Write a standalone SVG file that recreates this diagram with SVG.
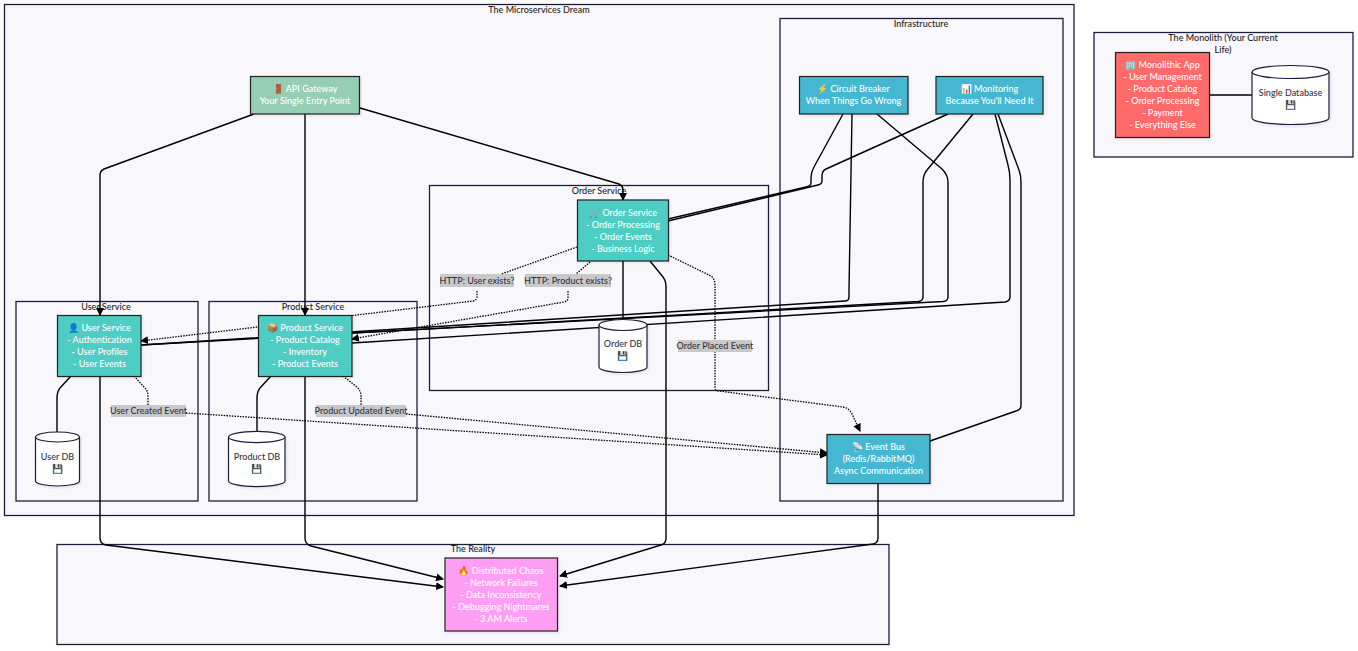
<svg xmlns="http://www.w3.org/2000/svg" width="1358" height="651" viewBox="0 0 1358 651">
<style>
text{font-family:"Lato","Noto Sans","Open Sans",sans-serif;font-size:9px;text-anchor:middle;letter-spacing:.02px;font-weight:500}
.c{fill:#f8f8fc;stroke:#1c1c3c;stroke-width:1.3}
.t{fill:#222}
.n{stroke:#222;stroke-width:1.2;filter:url(#s)}
.w{fill:#fff}
.d{fill:#333344}
.db{fill:#fff;stroke:#1c1c3c;stroke-width:1.2}
.e{fill:none;stroke:#000;stroke-width:1.4}
.h{stroke-dasharray:1.5 1.2;stroke-width:1.3}
.l{fill:#c9c9c9}
</style>
<defs>
<filter id="s" x="-10%" y="-10%" width="125%" height="125%"><feDropShadow dx="1.5" dy="1.5" stdDeviation="1" flood-color="#000" flood-opacity=".08"/></filter>
<marker id="a" markerWidth="8" markerHeight="8" refX="7" refY="4" orient="auto" markerUnits="userSpaceOnUse"><path d="M0 0L8 4L0 8z" fill="#000"/></marker>
</defs>
<g id="clusters">
<g id="dream"><rect class="c" x="4.500" y="4.500" width="1069.500" height="511"/><text class="t" x="539" y="13">The Microservices Dream</text></g>
<g id="infrastructure"><rect class="c" x="780" y="18.500" width="283" height="482.500"/><text class="t" x="921" y="27">Infrastructure</text></g>
<g id="order-cluster"><rect class="c" x="429.500" y="185.500" width="339" height="205"/><text class="t" x="599" y="194">Order Service</text></g>
<g id="user-cluster"><rect class="c" x="16" y="301.500" width="182" height="199.500"/><text class="t" x="106" y="310">User Service</text></g>
<g id="product-cluster"><rect class="c" x="209" y="301.500" width="208" height="199.500"/><text class="t" x="313" y="310">Product Service</text></g>
<g id="reality"><rect class="c" x="57" y="544.500" width="832" height="100"/><text class="t" x="473" y="552">The Reality</text></g>
<g id="monolith"><rect class="c" x="1094" y="32.500" width="259" height="124.500"/><text class="t" x="1223" y="41">The Monolith (Your Current<tspan x="1223" dy="12">Life)</tspan></text></g>
</g>
<g id="connectors">
<path class="e" marker-end="url(#a)" d="M254 114L104 169Q100 171 100 175V315"/>
<path class="e" marker-end="url(#a)" d="M305 114V315"/>
<path class="e" marker-end="url(#a)" d="M360 108L619 184Q623 186 623 190V200"/>
<path class="e" d="M843 114L814 167Q811 172 811 178V183Q811 186 806 187L668 219"/>
<path class="e" d="M948 114L826 169Q822 171 822 176V181Q822 184 818 185L668 221"/>
<path class="e" d="M852 114L849 290V297Q849 301 845 301L141 345"/>
<path class="e" d="M877 114L942 169Q948 175 948 182V297Q948 301 943 301.500L352 333"/>
<path class="e" d="M973 114L927 170Q923 175 923 182V297Q923 301 918 301.500L141 345"/>
<path class="e" d="M995 114L1008 165Q1010 172 1010 180V297Q1010 301 1005 302L352 343"/>
<path class="e" d="M998 114L1019 170Q1021 175 1021 182V405Q1021 410 1016 411L930 441"/>
<path class="e" d="M623 261V320"/>
<path class="e" d="M71 376L60 388Q57 392 57 398V432"/>
<path class="e" d="M271 376L260 388Q257 392 257 398V431"/>
<path class="e" d="M1209 95H1252"/>
<path class="e" marker-end="url(#a)" d="M100 376V538Q100 544 106 545L443 587"/>
<path class="e" marker-end="url(#a)" d="M305 376V538Q305 544 311 546L443 579"/>
<path class="e" marker-end="url(#a)" d="M650 261L663 277Q666 281 666 287V538Q666 544 661 545L560 576"/>
<path class="e" marker-end="url(#a)" d="M878 483V538Q878 543 873 544L560 586"/>
<path class="e h" marker-end="url(#a)" d="M577 247L493 277M477 291V297Q477 300 473 301L141 341"/>
<path class="e h" marker-end="url(#a)" d="M590 262L575 275M568 291V298Q568 301 564 302L352 339"/>
<path class="e h" marker-end="url(#a)" d="M668 255L711 276Q715 279 715 285V388Q715 391 719 391L843 407Q849 408 852 414L860 431"/>
<path class="e h" marker-end="url(#a)" d="M134 376L145 388Q148 391 148 396V405M186 413L827 455"/>
<path class="e h" marker-end="url(#a)" d="M343 376L357 387Q361 391 361 396V405M406 414L827 453"/>
</g>
<g id="labels">
<g id="l-user"><rect class="l" x="440" y="274" width="74" height="13"/><text class="d" x="477" y="284">HTTP: User exists?</text></g>
<g id="l-product"><rect class="l" x="525" y="274" width="86" height="13"/><text class="d" x="568" y="284">HTTP: Product exists?</text></g>
<g id="l-placed"><rect class="l" x="678" y="340" width="74" height="12"/><text class="d" x="715" y="349">Order Placed Event</text></g>
<g id="l-created"><rect class="l" x="111" y="405" width="75" height="12"/><text class="d" x="148.500" y="414">User Created Event</text></g>
<g id="l-updated"><rect class="l" x="316" y="405" width="90" height="12"/><text class="d" x="361" y="414">Product Updated Event</text></g>
</g>
<g id="api-gateway"><rect class="n" x="250.500" y="76.500" width="109" height="37.500" fill="#96ceb4"/><text class="w" x="305" y="92">🚪 API Gateway<tspan x="305" dy="12">Your Single Entry Point</tspan></text></g>
<g id="circuit-breaker"><rect class="n" x="799.500" y="76.500" width="108.500" height="37.500" fill="#45b7d1"/><text class="w" x="853.500" y="92">⚡ Circuit Breaker<tspan x="853.500" dy="12">When Things Go Wrong</tspan></text></g>
<g id="monitoring"><rect class="n" x="936" y="76.500" width="107" height="37.500" fill="#45b7d1"/><text class="w" x="989.500" y="92">📊 Monitoring<tspan x="989.500" dy="12">Because You'll Need It</tspan></text></g>
<g id="order-service"><rect class="n" x="577.500" y="200" width="91" height="61" fill="#4ecdc4"/><text class="w" x="623" y="215.500">🛒 Order Service<tspan x="623" dy="12">- Order Processing</tspan><tspan x="623" dy="12">- Order Events</tspan><tspan x="623" dy="12">- Business Logic</tspan></text></g>
<g id="user-service"><rect class="n" x="57.500" y="315.500" width="83.500" height="61" fill="#4ecdc4"/><text class="w" x="99.500" y="331">👤 User Service<tspan x="99.500" dy="12">- Authentication</tspan><tspan x="99.500" dy="12">- User Profiles</tspan><tspan x="99.500" dy="12">- User Events</tspan></text></g>
<g id="product-service"><rect class="n" x="258.500" y="315.500" width="93.500" height="61" fill="#4ecdc4"/><text class="w" x="305" y="331">📦 Product Service<tspan x="305" dy="12">- Product Catalog</tspan><tspan x="305" dy="12">- Inventory</tspan><tspan x="305" dy="12">- Product Events</tspan></text></g>
<g id="event-bus"><rect class="n" x="827" y="434.500" width="103" height="49" fill="#45b7d1"/><text class="w" x="878.500" y="450">📡 Event Bus<tspan x="878.500" dy="12">(Redis/RabbitMQ)</tspan><tspan x="878.500" dy="12">Async Communication</tspan></text></g>
<g id="chaos"><rect class="n" x="445" y="558" width="112.500" height="73" fill="#ff9ff3"/><text class="w" x="501" y="574">🔥 Distributed Chaos<tspan x="501" dy="12">- Network Failures</tspan><tspan x="501" dy="12">- Data Inconsistency</tspan><tspan x="501" dy="12">- Debugging Nightmares</tspan><tspan x="501" dy="12">- 3 AM Alerts</tspan></text></g>
<g id="monolithic-app"><rect class="n" x="1115.500" y="52.500" width="94" height="85" fill="#ff6b6b"/><text class="w" x="1162.500" y="68">🏢 Monolithic App<tspan x="1162.500" dy="12">- User Management</tspan><tspan x="1162.500" dy="12">- Product Catalog</tspan><tspan x="1162.500" dy="12">- Order Processing</tspan><tspan x="1162.500" dy="12">- Payment</tspan><tspan x="1162.500" dy="12">- Everything Else</tspan></text></g>
<g id="order-db"><path class="db" filter="url(#s)" d="M599 325A24 5.500 0 0 1 647 325V367A24 5.500 0 0 1 599 367Z"/><path class="db" d="M599 325A24 5.500 0 0 0 647 325"/><text class="d" x="623" y="347">Order DB<tspan x="623" dy="12">💾</tspan></text></g>
<g id="user-db"><path class="db" filter="url(#s)" d="M35.500 437A22 5 0 0 1 79.500 437V481A22 5 0 0 1 35.500 481Z"/><path class="db" d="M35.500 437A22 5 0 0 0 79.500 437"/><text class="d" x="57.500" y="460">User DB<tspan x="57.500" dy="12">💾</tspan></text></g>
<g id="product-db"><path class="db" filter="url(#s)" d="M228.500 437A28 5.500 0 0 1 285 437V481A28 5.500 0 0 1 228.500 481Z"/><path class="db" d="M228.500 437A28 5.500 0 0 0 285 437"/><text class="d" x="257" y="460">Product DB<tspan x="257" dy="12">💾</tspan></text></g>
<g id="single-db"><path class="db" filter="url(#s)" d="M1252 72A38.500 6.500 0 0 1 1329 72V118A38.500 6.500 0 0 1 1252 118Z"/><path class="db" d="M1252 72A38.500 6.500 0 0 0 1329 72"/><text class="d" x="1290.500" y="96">Single Database<tspan x="1290.500" dy="12">💾</tspan></text></g>
</svg>
